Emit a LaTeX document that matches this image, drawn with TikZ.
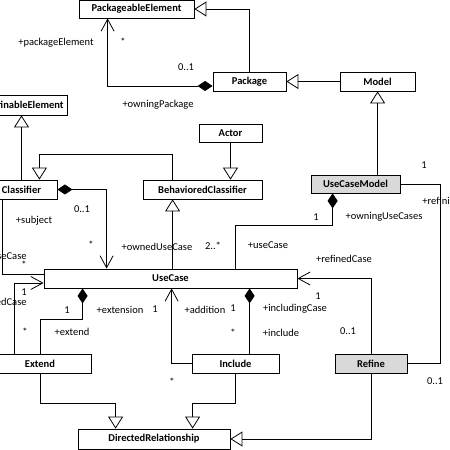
\documentclass[tikz,border=0pt]{standalone}
\usepackage{fontspec}
\setmainfont{Carlito}
\usetikzlibrary{arrows.meta,calc}

\begin{document}
\begin{tikzpicture}[x=1bp,y=-1bp,line width=0.8bp,
    font=\fontsize{10.5bp}{12bp}\selectfont,
    cls/.style={draw,inner sep=0pt,minimum height=19bp,font=\fontsize{10.5bp}{12bp}\selectfont\bfseries},
    lbl/.style={inner sep=0pt},
    gen/.style={arrows={-Triangle[open,length=12bp,width=15bp]}},
    nav/.style={arrows={-Straight Barb[length=12bp,width=13bp]}},
    comp/.style={arrows={Diamond[length=15bp,width=10bp]-}},
    compnav/.style={arrows={Diamond[length=15bp,width=10bp]-Straight Barb[length=12bp,width=13bp]}}]
    \useasboundingbox (0,0) rectangle (450,450);

    \node[cls,minimum width=115bp,minimum height=18bp] (pkgel) at (136.5,9) {PackageableElement};
    \node[cls,minimum width=73bp] (package) at (249.5,81.5) {Package};
    \node[cls,minimum width=75bp] (model) at (377.5,81.5) {Model};
    \node[cls,anchor=east,inner xsep=4bp,minimum height=20bp] (redef) at (68,105) {RedefinableElement};
    \node[cls,minimum width=63bp,minimum height=18bp] (actor) at (230.5,133) {Actor};
    \node[cls,minimum width=71bp] (classifier) at (21.5,189.5) {Classifier};
    \node[cls,minimum width=119bp] (bclass) at (202.5,189.5) {BehavioredClassifier};
    \node[cls,fill=gray!30,minimum width=89bp,minimum height=18bp] (ucmodel) at (355.5,184) {UseCaseModel};
    \node[cls,minimum width=253bp] (usecase) at (170.5,278.5) {UseCase};
    \node[cls,minimum width=102bp] (extend) at (40,363.5) {Extend};
    \node[cls,minimum width=87bp] (include) at (235.5,363.5) {Include};
    \node[cls,fill=gray!30,minimum width=72bp] (refine) at (371,363.5) {Refine};
    \node[cls,minimum width=152bp,minimum height=20bp] (dirrel) at (154,439) {DirectedRelationship};

    % attachment points on the boxes
    \coordinate (pe-a) at ($(pkgel.south west)+(29,0)$);
    \coordinate (pk-a) at ($(package.west)+(0,4.5)$);
    \coordinate (bc-a) at ($(bclass.north west)+(30,0)$);
    \coordinate (cl-a) at ($(classifier.north east)+(-18,0)$);
    \coordinate (cl-b) at ($(classifier.south west)+(17,0)$);
    \coordinate (ucm-a) at ($(ucmodel.south west)+(22,0)$);
    \coordinate (ucm-b) at ($(ucmodel.north west)+(67,0)$);
    \coordinate (ex-a) at ($(extend.north west)+(26,0)$);
    \coordinate (uc-a) at ($(usecase.north west)+(129,0)$);
    \coordinate (uc-b) at ($(usecase.north west)+(63,0)$);
    \coordinate (uc-c) at ($(usecase.north west)+(192,0)$);
    \coordinate (uc-d) at ($(usecase.west)+(0,-4.5)$);
    \coordinate (uc-e) at ($(usecase.west)+(0,4.5)$);
    \coordinate (uc-f) at ($(usecase.south west)+(39,0)$);
    \coordinate (uc-g) at ($(usecase.south west)+(128,0)$);
    \coordinate (uc-h) at ($(usecase.south west)+(206,0)$);
    \coordinate (dr-a) at ($(dirrel.north west)+(38,0)$);
    \coordinate (dr-b) at ($(dirrel.north west)+(115,0)$);

    \draw[gen] (package.north) |- (pkgel.east);
    \draw[gen] (model.west) -- (package.east);
    \draw[compnav] (pk-a) -| (pe-a);
    \draw[gen] (classifier.north) -- (classifier.north |- redef.south);
    \draw[gen] (bc-a) -- ++(0,-25) -| (cl-a);
    \draw[gen] (actor.south) -- (actor.south |- bclass.north);
    \draw[gen] (uc-a) -- (uc-a |- bclass.south);
    \draw[gen] (ucm-b) -- (ucm-b |- model.south);
    \draw[compnav] (classifier.east) -| (uc-b);
    \draw[comp] (ucm-a) -- ++(0,32) -| (uc-c);
    \draw (ucmodel.east) -- ++(40,0) |- (refine.east);
    \draw[nav] (refine.north) |- (usecase.east);
    \draw (cl-b) |- (uc-d);
    \draw[nav] (ex-a) |- (uc-e);
    \draw[comp] (uc-f) -- ++(0,31) -| (extend.north);
    \draw[nav] (include.west) -| (uc-g);
    \draw[comp] (uc-h) -- (uc-h |- include.north);
    \draw[gen] (extend.south) -- ++(0,30) -| (dr-a);
    \draw[gen] (include.south) -- ++(0,30) -| (dr-b);
    \draw[gen] (refine.south) |- (dirrel.east);

    % role names and multiplicities
    \node[lbl] (l-pkgel) at (56,43) {+packageElement};
    \node[lbl] (m-pkgel) at (123,42) {*};
    \node[lbl] (m-pkg) at (186,67) {0..1};
    \node[lbl] (l-pkg) at (158,105) {+owningPackage};
    \node[lbl] (m-subj) at (82,209) {0..1};
    \node[lbl] (l-subj) at (34,221) {+subject};
    \node[lbl] (m-owned) at (91,245) {*};
    \node[lbl] (l-owned) at (157,247) {+ownedUseCase};
    \node[lbl] (m-bc) at (213,246) {2..*};
    \node[lbl,anchor=east] (l-clcase) at (27,256) {+useCase};
    \node[lbl] (m-clcase) at (24,265) {*};
    \node[lbl] (m-ucmref) at (424,165) {1};
    \node[lbl,anchor=west] (l-ucmref) at (422,202) {+refining};
    \node[lbl] (m-ucm) at (316,217) {1};
    \node[lbl] (l-ucm) at (384,217) {+owningUseCases};
    \node[lbl] (l-ucmcase) at (268,245) {+useCase};
    \node[lbl] (l-refcase) at (344,259) {+refinedCase};
    \node[lbl] (m-refcase) at (318,296) {1};
    \node[lbl] (m-ref) at (348,331) {0..1};
    \node[lbl] (m-ref2) at (435,381) {0..1};
    \node[lbl] (m-excase) at (24,292) {1};
    \node[lbl,anchor=east] (l-excase) at (27,302) {+extendedCase};
    \node[lbl] (m-ex) at (25,332) {*};
    \node[lbl] (m-extn) at (67,310) {1};
    \node[lbl] (l-extn) at (120,310) {+extension};
    \node[lbl] (l-ext) at (72,332) {+extend};
    \node[lbl] (m-add) at (155,309) {1};
    \node[lbl] (l-add) at (205,310) {+addition};
    \node[lbl] (m-inc2) at (172,382) {*};
    \node[lbl] (m-incc) at (233,308) {1};
    \node[lbl] (l-incc) at (295,309) {+includingCase};
    \node[lbl] (m-inc) at (233,333) {*};
    \node[lbl] (l-inc) at (281,333) {+include};

\end{tikzpicture}
\end{document}
